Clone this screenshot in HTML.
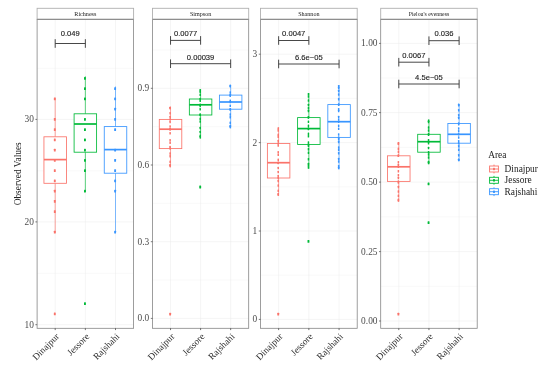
<!DOCTYPE html>
<html><head><meta charset="utf-8"><title>Alpha diversity</title>
<style>html,body{margin:0;padding:0;background:#fff}svg{display:block}</style></head>
<body>
<svg width="550" height="367" viewBox="0 0 550 367">
<rect width="550" height="367" fill="#fff"/>
<g stroke="#ebebeb" stroke-width="0.5">
<line x1="37.1" x2="133.6" y1="68.3" y2="68.3" stroke-width="0.3"/>
<line x1="37.1" x2="133.6" y1="170.8" y2="170.8" stroke-width="0.3"/>
<line x1="37.1" x2="133.6" y1="273.3" y2="273.3" stroke-width="0.3"/>
<line x1="37.1" x2="133.6" y1="119.4" y2="119.4"/>
<line x1="37.1" x2="133.6" y1="221.9" y2="221.9"/>
<line x1="37.1" x2="133.6" y1="324.7" y2="324.7"/>
<line x1="55.19" x2="55.19" y1="19.3" y2="328.3"/>
<line x1="85.35" x2="85.35" y1="19.3" y2="328.3"/>
<line x1="115.51" x2="115.51" y1="19.3" y2="328.3"/>
</g>
<g stroke="#FA736A" fill="none" stroke-width="0.85">
<line x1="55.19" x2="55.19" y1="97.7" y2="136.8" stroke-width="0.65"/>
<line x1="55.19" x2="55.19" y1="183.3" y2="233.0" stroke-width="0.65"/>
<rect x="43.94" y="136.8" width="22.50" height="46.50" fill="#fff"/>
<line x1="43.94" x2="66.44" y1="159.6" y2="159.6" stroke-width="1.7"/>
</g>
<g fill="#FA736A">
<rect x="53.84" y="97.52" width="1.9" height="2.8" rx="0.5"/>
<rect x="53.84" y="118.00" width="1.9" height="2.8" rx="0.5"/>
<rect x="53.84" y="128.24" width="1.9" height="2.8" rx="0.5"/>
<rect x="53.84" y="138.48" width="1.9" height="2.8" rx="0.5"/>
<rect x="53.84" y="148.72" width="1.9" height="2.8" rx="0.5"/>
<rect x="53.84" y="158.96" width="1.9" height="2.8" rx="0.5"/>
<rect x="53.84" y="169.20" width="1.9" height="2.8" rx="0.5"/>
<rect x="53.84" y="179.44" width="1.9" height="2.8" rx="0.5"/>
<rect x="53.84" y="189.68" width="1.9" height="2.8" rx="0.5"/>
<rect x="53.84" y="199.92" width="1.9" height="2.8" rx="0.5"/>
<rect x="53.84" y="210.16" width="1.9" height="2.8" rx="0.5"/>
<rect x="53.84" y="230.64" width="1.9" height="2.8" rx="0.5"/>
<rect x="53.84" y="312.56" width="1.9" height="2.8" rx="0.5"/>
</g>
<g stroke="#00BA38" fill="none" stroke-width="0.85">
<line x1="85.35" x2="85.35" y1="76.3" y2="113.8" stroke-width="0.65"/>
<line x1="85.35" x2="85.35" y1="152.2" y2="192.0" stroke-width="0.65"/>
<rect x="74.10" y="113.8" width="22.50" height="38.40" fill="#fff"/>
<line x1="74.10" x2="96.60" y1="124.0" y2="124.0" stroke-width="1.7"/>
</g>
<g fill="#00BA38">
<rect x="84.00" y="77.04" width="1.9" height="2.8" rx="0.5"/>
<rect x="84.00" y="87.28" width="1.9" height="2.8" rx="0.5"/>
<rect x="84.00" y="97.52" width="1.9" height="2.8" rx="0.5"/>
<rect x="84.00" y="118.00" width="1.9" height="2.8" rx="0.5"/>
<rect x="84.00" y="128.24" width="1.9" height="2.8" rx="0.5"/>
<rect x="84.00" y="138.48" width="1.9" height="2.8" rx="0.5"/>
<rect x="84.00" y="148.72" width="1.9" height="2.8" rx="0.5"/>
<rect x="84.00" y="158.96" width="1.9" height="2.8" rx="0.5"/>
<rect x="84.00" y="169.20" width="1.9" height="2.8" rx="0.5"/>
<rect x="84.00" y="189.68" width="1.9" height="2.8" rx="0.5"/>
<rect x="84.00" y="302.32" width="1.9" height="2.8" rx="0.5"/>
</g>
<g stroke="#3895FF" fill="none" stroke-width="0.85">
<line x1="115.51" x2="115.51" y1="86.5" y2="126.6" stroke-width="0.65"/>
<line x1="115.51" x2="115.51" y1="173.2" y2="233.0" stroke-width="0.65"/>
<rect x="104.26" y="126.6" width="22.50" height="46.60" fill="#fff"/>
<line x1="104.26" x2="126.76" y1="149.6" y2="149.6" stroke-width="1.7"/>
</g>
<g fill="#3895FF">
<rect x="114.16" y="87.28" width="1.9" height="2.8" rx="0.5"/>
<rect x="114.16" y="97.52" width="1.9" height="2.8" rx="0.5"/>
<rect x="114.16" y="107.76" width="1.9" height="2.8" rx="0.5"/>
<rect x="114.16" y="118.00" width="1.9" height="2.8" rx="0.5"/>
<rect x="114.16" y="128.24" width="1.9" height="2.8" rx="0.5"/>
<rect x="114.16" y="148.72" width="1.9" height="2.8" rx="0.5"/>
<rect x="114.16" y="158.96" width="1.9" height="2.8" rx="0.5"/>
<rect x="114.16" y="169.20" width="1.9" height="2.8" rx="0.5"/>
<rect x="114.16" y="179.44" width="1.9" height="2.8" rx="0.5"/>
<rect x="114.16" y="189.68" width="1.9" height="2.8" rx="0.5"/>
<rect x="114.16" y="230.64" width="1.9" height="2.8" rx="0.5"/>
</g>
<path d="M55.19 47.80V39.20M55.19 43.5H85.35M85.35 39.20V47.80" stroke="#3d3d3d" stroke-width="0.95" fill="none"/>
<text x="70.27" y="36.15" font-family="Liberation Sans, sans-serif" font-size="7.6" fill="#1a1a1a" stroke="#1a1a1a" stroke-width="0.12" text-anchor="middle">0.049</text>
<rect x="37.1" y="19.3" width="96.5" height="309.0" fill="none" stroke="#858585" stroke-width="0.8"/>
<rect x="37.1" y="8.3" width="96.5" height="11.00" fill="#fff" stroke="#b0b0b0" stroke-width="0.9"/>
<line x1="37.1" x2="133.6" y1="19.3" y2="19.3" stroke="#777" stroke-width="0.8"/>
<text x="85.35" y="15.5" font-family="Liberation Serif, serif" font-size="6.1" fill="#1a1a1a" text-anchor="middle">Richness</text>
<line x1="35.40" x2="37.1" y1="119.4" y2="119.4" stroke="#444" stroke-width="0.7"/>
<text x="33.90" y="122.40" font-family="Liberation Serif, serif" font-size="9.4" fill="#4d4d4d" text-anchor="end">30</text>
<line x1="35.40" x2="37.1" y1="221.9" y2="221.9" stroke="#444" stroke-width="0.7"/>
<text x="33.90" y="224.90" font-family="Liberation Serif, serif" font-size="9.4" fill="#4d4d4d" text-anchor="end">20</text>
<line x1="35.40" x2="37.1" y1="324.7" y2="324.7" stroke="#444" stroke-width="0.7"/>
<text x="33.90" y="327.70" font-family="Liberation Serif, serif" font-size="9.4" fill="#4d4d4d" text-anchor="end">10</text>
<line x1="55.19" x2="55.19" y1="328.3" y2="330.1" stroke="#333" stroke-width="0.7"/>
<text transform="translate(59.79,337.10) rotate(-45)" font-family="Liberation Serif, serif" font-size="9.4" fill="#303030" text-anchor="end">Dinajpur</text>
<line x1="85.35" x2="85.35" y1="328.3" y2="330.1" stroke="#333" stroke-width="0.7"/>
<text transform="translate(89.95,337.10) rotate(-45)" font-family="Liberation Serif, serif" font-size="9.4" fill="#303030" text-anchor="end">Jessore</text>
<line x1="115.51" x2="115.51" y1="328.3" y2="330.1" stroke="#333" stroke-width="0.7"/>
<text transform="translate(120.11,337.10) rotate(-45)" font-family="Liberation Serif, serif" font-size="9.4" fill="#303030" text-anchor="end">Rajshahi</text>
<g stroke="#ebebeb" stroke-width="0.5">
<line x1="152.5" x2="248.7" y1="50.0" y2="50.0" stroke-width="0.3"/>
<line x1="152.5" x2="248.7" y1="126.6" y2="126.6" stroke-width="0.3"/>
<line x1="152.5" x2="248.7" y1="203.3" y2="203.3" stroke-width="0.3"/>
<line x1="152.5" x2="248.7" y1="280.0" y2="280.0" stroke-width="0.3"/>
<line x1="152.5" x2="248.7" y1="88.3" y2="88.3"/>
<line x1="152.5" x2="248.7" y1="165.0" y2="165.0"/>
<line x1="152.5" x2="248.7" y1="241.7" y2="241.7"/>
<line x1="152.5" x2="248.7" y1="318.4" y2="318.4"/>
<line x1="170.54" x2="170.54" y1="19.3" y2="328.3"/>
<line x1="200.60" x2="200.60" y1="19.3" y2="328.3"/>
<line x1="230.66" x2="230.66" y1="19.3" y2="328.3"/>
</g>
<g stroke="#FA736A" fill="none" stroke-width="0.85">
<line x1="170.54" x2="170.54" y1="106.6" y2="119.4" stroke-width="0.65"/>
<line x1="170.54" x2="170.54" y1="148.6" y2="167.3" stroke-width="0.65"/>
<rect x="159.29" y="119.4" width="22.50" height="29.20" fill="#fff"/>
<line x1="159.29" x2="181.79" y1="129.2" y2="129.2" stroke-width="1.7"/>
</g>
<g fill="#FA736A">
<rect x="169.19" y="312.80" width="1.9" height="2.8" rx="0.5"/>
<rect x="169.39" y="106.65" width="1.5" height="2.5" rx="0.5"/>
<rect x="169.39" y="164.75" width="1.5" height="2.5" rx="0.5"/>
<rect x="169.39" y="118.15" width="1.5" height="2.5" rx="0.5"/>
<rect x="169.39" y="147.35" width="1.5" height="2.5" rx="0.5"/>
<rect x="169.39" y="127.95" width="1.5" height="2.5" rx="0.5"/>
<rect x="169.39" y="106.73" width="1.5" height="2.5" rx="0.5"/>
<rect x="169.39" y="111.99" width="1.5" height="2.5" rx="0.5"/>
<rect x="169.39" y="115.80" width="1.5" height="2.5" rx="0.5"/>
<rect x="169.39" y="120.84" width="1.5" height="2.5" rx="0.5"/>
<rect x="169.39" y="125.24" width="1.5" height="2.5" rx="0.5"/>
<rect x="169.39" y="127.89" width="1.5" height="2.5" rx="0.5"/>
<rect x="169.39" y="132.07" width="1.5" height="2.5" rx="0.5"/>
<rect x="169.39" y="138.88" width="1.5" height="2.5" rx="0.5"/>
<rect x="169.39" y="141.48" width="1.5" height="2.5" rx="0.5"/>
<rect x="169.39" y="145.74" width="1.5" height="2.5" rx="0.5"/>
<rect x="169.39" y="152.36" width="1.5" height="2.5" rx="0.5"/>
<rect x="169.39" y="155.12" width="1.5" height="2.5" rx="0.5"/>
<rect x="169.39" y="160.56" width="1.5" height="2.5" rx="0.5"/>
<rect x="169.39" y="163.81" width="1.5" height="2.5" rx="0.5"/>
</g>
<g stroke="#00BA38" fill="none" stroke-width="0.85">
<line x1="200.60" x2="200.60" y1="89.0" y2="99.0" stroke-width="0.65"/>
<line x1="200.60" x2="200.60" y1="115.0" y2="138.6" stroke-width="0.65"/>
<rect x="189.35" y="99.0" width="22.50" height="16.00" fill="#fff"/>
<line x1="189.35" x2="211.85" y1="104.8" y2="104.8" stroke-width="1.7"/>
</g>
<g fill="#00BA38">
<rect x="199.25" y="185.60" width="1.9" height="2.8" rx="0.5"/>
<rect x="199.45" y="89.05" width="1.5" height="2.5" rx="0.5"/>
<rect x="199.45" y="136.05" width="1.5" height="2.5" rx="0.5"/>
<rect x="199.45" y="97.75" width="1.5" height="2.5" rx="0.5"/>
<rect x="199.45" y="113.75" width="1.5" height="2.5" rx="0.5"/>
<rect x="199.45" y="103.55" width="1.5" height="2.5" rx="0.5"/>
<rect x="199.45" y="90.42" width="1.5" height="2.5" rx="0.5"/>
<rect x="199.45" y="93.47" width="1.5" height="2.5" rx="0.5"/>
<rect x="199.45" y="99.43" width="1.5" height="2.5" rx="0.5"/>
<rect x="199.45" y="104.64" width="1.5" height="2.5" rx="0.5"/>
<rect x="199.45" y="108.11" width="1.5" height="2.5" rx="0.5"/>
<rect x="199.45" y="113.27" width="1.5" height="2.5" rx="0.5"/>
<rect x="199.45" y="117.57" width="1.5" height="2.5" rx="0.5"/>
<rect x="199.45" y="120.26" width="1.5" height="2.5" rx="0.5"/>
<rect x="199.45" y="126.85" width="1.5" height="2.5" rx="0.5"/>
<rect x="199.45" y="130.86" width="1.5" height="2.5" rx="0.5"/>
<rect x="199.45" y="134.50" width="1.5" height="2.5" rx="0.5"/>
</g>
<g stroke="#3895FF" fill="none" stroke-width="0.85">
<line x1="230.66" x2="230.66" y1="85.0" y2="95.1" stroke-width="0.65"/>
<line x1="230.66" x2="230.66" y1="109.2" y2="128.4" stroke-width="0.65"/>
<rect x="219.41" y="95.1" width="22.50" height="14.10" fill="#fff"/>
<line x1="219.41" x2="241.91" y1="102.0" y2="102.0" stroke-width="1.7"/>
</g>
<g fill="#3895FF">
<rect x="229.51" y="85.05" width="1.5" height="2.5" rx="0.5"/>
<rect x="229.51" y="125.85" width="1.5" height="2.5" rx="0.5"/>
<rect x="229.51" y="93.85" width="1.5" height="2.5" rx="0.5"/>
<rect x="229.51" y="107.95" width="1.5" height="2.5" rx="0.5"/>
<rect x="229.51" y="100.75" width="1.5" height="2.5" rx="0.5"/>
<rect x="229.51" y="84.51" width="1.5" height="2.5" rx="0.5"/>
<rect x="229.51" y="91.36" width="1.5" height="2.5" rx="0.5"/>
<rect x="229.51" y="94.52" width="1.5" height="2.5" rx="0.5"/>
<rect x="229.51" y="99.60" width="1.5" height="2.5" rx="0.5"/>
<rect x="229.51" y="104.42" width="1.5" height="2.5" rx="0.5"/>
<rect x="229.51" y="108.26" width="1.5" height="2.5" rx="0.5"/>
<rect x="229.51" y="113.22" width="1.5" height="2.5" rx="0.5"/>
<rect x="229.51" y="115.98" width="1.5" height="2.5" rx="0.5"/>
<rect x="229.51" y="121.54" width="1.5" height="2.5" rx="0.5"/>
<rect x="229.51" y="124.81" width="1.5" height="2.5" rx="0.5"/>
</g>
<path d="M170.54 44.70V36.10M170.54 40.4H200.60M200.60 36.10V44.70" stroke="#3d3d3d" stroke-width="0.95" fill="none"/>
<text x="185.57" y="36.15" font-family="Liberation Sans, sans-serif" font-size="7.6" fill="#1a1a1a" stroke="#1a1a1a" stroke-width="0.12" text-anchor="middle">0.0077</text>
<path d="M170.54 68.00V59.40M170.54 63.7H230.66M230.66 59.40V68.00" stroke="#3d3d3d" stroke-width="0.95" fill="none"/>
<text x="200.60" y="60.05" font-family="Liberation Sans, sans-serif" font-size="7.6" fill="#1a1a1a" stroke="#1a1a1a" stroke-width="0.12" text-anchor="middle">0.00039</text>
<rect x="152.5" y="19.3" width="96.2" height="309.0" fill="none" stroke="#858585" stroke-width="0.8"/>
<rect x="152.5" y="8.3" width="96.2" height="11.00" fill="#fff" stroke="#b0b0b0" stroke-width="0.9"/>
<line x1="152.5" x2="248.7" y1="19.3" y2="19.3" stroke="#777" stroke-width="0.8"/>
<text x="200.60" y="15.5" font-family="Liberation Serif, serif" font-size="6.1" fill="#1a1a1a" text-anchor="middle">Simpson</text>
<line x1="150.80" x2="152.5" y1="88.3" y2="88.3" stroke="#444" stroke-width="0.7"/>
<text x="149.30" y="91.30" font-family="Liberation Serif, serif" font-size="9.4" fill="#4d4d4d" text-anchor="end">0.9</text>
<line x1="150.80" x2="152.5" y1="165.0" y2="165.0" stroke="#444" stroke-width="0.7"/>
<text x="149.30" y="168.00" font-family="Liberation Serif, serif" font-size="9.4" fill="#4d4d4d" text-anchor="end">0.6</text>
<line x1="150.80" x2="152.5" y1="241.7" y2="241.7" stroke="#444" stroke-width="0.7"/>
<text x="149.30" y="244.70" font-family="Liberation Serif, serif" font-size="9.4" fill="#4d4d4d" text-anchor="end">0.3</text>
<line x1="150.80" x2="152.5" y1="318.4" y2="318.4" stroke="#444" stroke-width="0.7"/>
<text x="149.30" y="321.40" font-family="Liberation Serif, serif" font-size="9.4" fill="#4d4d4d" text-anchor="end">0.0</text>
<line x1="170.54" x2="170.54" y1="328.3" y2="330.1" stroke="#333" stroke-width="0.7"/>
<text transform="translate(175.14,337.10) rotate(-45)" font-family="Liberation Serif, serif" font-size="9.4" fill="#303030" text-anchor="end">Dinajpur</text>
<line x1="200.60" x2="200.60" y1="328.3" y2="330.1" stroke="#333" stroke-width="0.7"/>
<text transform="translate(205.20,337.10) rotate(-45)" font-family="Liberation Serif, serif" font-size="9.4" fill="#303030" text-anchor="end">Jessore</text>
<line x1="230.66" x2="230.66" y1="328.3" y2="330.1" stroke="#333" stroke-width="0.7"/>
<text transform="translate(235.26,337.10) rotate(-45)" font-family="Liberation Serif, serif" font-size="9.4" fill="#303030" text-anchor="end">Rajshahi</text>
<g stroke="#ebebeb" stroke-width="0.5">
<line x1="260.5" x2="357.2" y1="98.4" y2="98.4" stroke-width="0.3"/>
<line x1="260.5" x2="357.2" y1="186.8" y2="186.8" stroke-width="0.3"/>
<line x1="260.5" x2="357.2" y1="275.2" y2="275.2" stroke-width="0.3"/>
<line x1="260.5" x2="357.2" y1="54.2" y2="54.2"/>
<line x1="260.5" x2="357.2" y1="142.6" y2="142.6"/>
<line x1="260.5" x2="357.2" y1="231.0" y2="231.0"/>
<line x1="260.5" x2="357.2" y1="319.4" y2="319.4"/>
<line x1="278.63" x2="278.63" y1="19.3" y2="328.3"/>
<line x1="308.85" x2="308.85" y1="19.3" y2="328.3"/>
<line x1="339.07" x2="339.07" y1="19.3" y2="328.3"/>
</g>
<g stroke="#FA736A" fill="none" stroke-width="0.85">
<line x1="278.63" x2="278.63" y1="127.1" y2="143.5" stroke-width="0.65"/>
<line x1="278.63" x2="278.63" y1="178.0" y2="195.9" stroke-width="0.65"/>
<rect x="267.38" y="143.5" width="22.50" height="34.50" fill="#fff"/>
<line x1="267.38" x2="289.88" y1="162.7" y2="162.7" stroke-width="1.7"/>
</g>
<g fill="#FA736A">
<rect x="277.28" y="312.80" width="1.9" height="2.8" rx="0.5"/>
<rect x="277.48" y="127.15" width="1.5" height="2.5" rx="0.5"/>
<rect x="277.48" y="193.35" width="1.5" height="2.5" rx="0.5"/>
<rect x="277.48" y="142.25" width="1.5" height="2.5" rx="0.5"/>
<rect x="277.48" y="176.75" width="1.5" height="2.5" rx="0.5"/>
<rect x="277.48" y="161.45" width="1.5" height="2.5" rx="0.5"/>
<rect x="277.48" y="129.31" width="1.5" height="2.5" rx="0.5"/>
<rect x="277.48" y="133.44" width="1.5" height="2.5" rx="0.5"/>
<rect x="277.48" y="135.39" width="1.5" height="2.5" rx="0.5"/>
<rect x="277.48" y="139.81" width="1.5" height="2.5" rx="0.5"/>
<rect x="277.48" y="144.35" width="1.5" height="2.5" rx="0.5"/>
<rect x="277.48" y="150.90" width="1.5" height="2.5" rx="0.5"/>
<rect x="277.48" y="153.61" width="1.5" height="2.5" rx="0.5"/>
<rect x="277.48" y="158.48" width="1.5" height="2.5" rx="0.5"/>
<rect x="277.48" y="161.80" width="1.5" height="2.5" rx="0.5"/>
<rect x="277.48" y="166.72" width="1.5" height="2.5" rx="0.5"/>
<rect x="277.48" y="170.66" width="1.5" height="2.5" rx="0.5"/>
<rect x="277.48" y="174.85" width="1.5" height="2.5" rx="0.5"/>
<rect x="277.48" y="179.86" width="1.5" height="2.5" rx="0.5"/>
<rect x="277.48" y="184.15" width="1.5" height="2.5" rx="0.5"/>
<rect x="277.48" y="189.41" width="1.5" height="2.5" rx="0.5"/>
<rect x="277.48" y="193.05" width="1.5" height="2.5" rx="0.5"/>
</g>
<g stroke="#00BA38" fill="none" stroke-width="0.85">
<line x1="308.85" x2="308.85" y1="93.0" y2="117.6" stroke-width="0.65"/>
<line x1="308.85" x2="308.85" y1="144.5" y2="168.8" stroke-width="0.65"/>
<rect x="297.60" y="117.6" width="22.50" height="26.90" fill="#fff"/>
<line x1="297.60" x2="320.10" y1="128.6" y2="128.6" stroke-width="1.7"/>
</g>
<g fill="#00BA38">
<rect x="307.50" y="240.00" width="1.9" height="2.8" rx="0.5"/>
<rect x="307.70" y="93.05" width="1.5" height="2.5" rx="0.5"/>
<rect x="307.70" y="166.25" width="1.5" height="2.5" rx="0.5"/>
<rect x="307.70" y="116.35" width="1.5" height="2.5" rx="0.5"/>
<rect x="307.70" y="143.25" width="1.5" height="2.5" rx="0.5"/>
<rect x="307.70" y="127.35" width="1.5" height="2.5" rx="0.5"/>
<rect x="307.70" y="95.14" width="1.5" height="2.5" rx="0.5"/>
<rect x="307.70" y="99.14" width="1.5" height="2.5" rx="0.5"/>
<rect x="307.70" y="103.75" width="1.5" height="2.5" rx="0.5"/>
<rect x="307.70" y="107.00" width="1.5" height="2.5" rx="0.5"/>
<rect x="307.70" y="109.69" width="1.5" height="2.5" rx="0.5"/>
<rect x="307.70" y="115.99" width="1.5" height="2.5" rx="0.5"/>
<rect x="307.70" y="120.52" width="1.5" height="2.5" rx="0.5"/>
<rect x="307.70" y="124.55" width="1.5" height="2.5" rx="0.5"/>
<rect x="307.70" y="127.75" width="1.5" height="2.5" rx="0.5"/>
<rect x="307.70" y="132.40" width="1.5" height="2.5" rx="0.5"/>
<rect x="307.70" y="135.10" width="1.5" height="2.5" rx="0.5"/>
<rect x="307.70" y="141.17" width="1.5" height="2.5" rx="0.5"/>
<rect x="307.70" y="144.61" width="1.5" height="2.5" rx="0.5"/>
<rect x="307.70" y="147.95" width="1.5" height="2.5" rx="0.5"/>
<rect x="307.70" y="151.50" width="1.5" height="2.5" rx="0.5"/>
<rect x="307.70" y="158.08" width="1.5" height="2.5" rx="0.5"/>
<rect x="307.70" y="162.70" width="1.5" height="2.5" rx="0.5"/>
<rect x="307.70" y="164.21" width="1.5" height="2.5" rx="0.5"/>
</g>
<g stroke="#3895FF" fill="none" stroke-width="0.85">
<line x1="339.07" x2="339.07" y1="85.0" y2="104.6" stroke-width="0.65"/>
<line x1="339.07" x2="339.07" y1="137.4" y2="169.3" stroke-width="0.65"/>
<rect x="327.82" y="104.6" width="22.50" height="32.80" fill="#fff"/>
<line x1="327.82" x2="350.32" y1="121.7" y2="121.7" stroke-width="1.7"/>
</g>
<g fill="#3895FF">
<rect x="337.92" y="85.05" width="1.5" height="2.5" rx="0.5"/>
<rect x="337.92" y="166.75" width="1.5" height="2.5" rx="0.5"/>
<rect x="337.92" y="103.35" width="1.5" height="2.5" rx="0.5"/>
<rect x="337.92" y="136.15" width="1.5" height="2.5" rx="0.5"/>
<rect x="337.92" y="120.45" width="1.5" height="2.5" rx="0.5"/>
<rect x="337.92" y="86.76" width="1.5" height="2.5" rx="0.5"/>
<rect x="337.92" y="89.80" width="1.5" height="2.5" rx="0.5"/>
<rect x="337.92" y="93.24" width="1.5" height="2.5" rx="0.5"/>
<rect x="337.92" y="97.88" width="1.5" height="2.5" rx="0.5"/>
<rect x="337.92" y="103.52" width="1.5" height="2.5" rx="0.5"/>
<rect x="337.92" y="108.05" width="1.5" height="2.5" rx="0.5"/>
<rect x="337.92" y="109.78" width="1.5" height="2.5" rx="0.5"/>
<rect x="337.92" y="115.71" width="1.5" height="2.5" rx="0.5"/>
<rect x="337.92" y="118.21" width="1.5" height="2.5" rx="0.5"/>
<rect x="337.92" y="124.45" width="1.5" height="2.5" rx="0.5"/>
<rect x="337.92" y="127.50" width="1.5" height="2.5" rx="0.5"/>
<rect x="337.92" y="133.37" width="1.5" height="2.5" rx="0.5"/>
<rect x="337.92" y="137.88" width="1.5" height="2.5" rx="0.5"/>
<rect x="337.92" y="140.67" width="1.5" height="2.5" rx="0.5"/>
<rect x="337.92" y="146.36" width="1.5" height="2.5" rx="0.5"/>
<rect x="337.92" y="148.51" width="1.5" height="2.5" rx="0.5"/>
<rect x="337.92" y="152.03" width="1.5" height="2.5" rx="0.5"/>
<rect x="337.92" y="157.81" width="1.5" height="2.5" rx="0.5"/>
<rect x="337.92" y="160.32" width="1.5" height="2.5" rx="0.5"/>
<rect x="337.92" y="165.03" width="1.5" height="2.5" rx="0.5"/>
</g>
<path d="M278.63 44.80V36.20M278.63 40.5H308.85M308.85 36.20V44.80" stroke="#3d3d3d" stroke-width="0.95" fill="none"/>
<text x="293.74" y="36.15" font-family="Liberation Sans, sans-serif" font-size="7.6" fill="#1a1a1a" stroke="#1a1a1a" stroke-width="0.12" text-anchor="middle">0.0047</text>
<path d="M278.63 68.30V59.70M278.63 64.0H339.07M339.07 59.70V68.30" stroke="#3d3d3d" stroke-width="0.95" fill="none"/>
<text x="308.85" y="60.15" font-family="Liberation Sans, sans-serif" font-size="7.6" fill="#1a1a1a" stroke="#1a1a1a" stroke-width="0.12" text-anchor="middle">6.6e−05</text>
<rect x="260.5" y="19.3" width="96.7" height="309.0" fill="none" stroke="#858585" stroke-width="0.8"/>
<rect x="260.5" y="8.3" width="96.7" height="11.00" fill="#fff" stroke="#b0b0b0" stroke-width="0.9"/>
<line x1="260.5" x2="357.2" y1="19.3" y2="19.3" stroke="#777" stroke-width="0.8"/>
<text x="308.85" y="15.5" font-family="Liberation Serif, serif" font-size="6.1" fill="#1a1a1a" text-anchor="middle">Shannon</text>
<line x1="258.80" x2="260.5" y1="54.2" y2="54.2" stroke="#444" stroke-width="0.7"/>
<text x="257.30" y="57.20" font-family="Liberation Serif, serif" font-size="9.4" fill="#4d4d4d" text-anchor="end">3</text>
<line x1="258.80" x2="260.5" y1="142.6" y2="142.6" stroke="#444" stroke-width="0.7"/>
<text x="257.30" y="145.60" font-family="Liberation Serif, serif" font-size="9.4" fill="#4d4d4d" text-anchor="end">2</text>
<line x1="258.80" x2="260.5" y1="231.0" y2="231.0" stroke="#444" stroke-width="0.7"/>
<text x="257.30" y="234.00" font-family="Liberation Serif, serif" font-size="9.4" fill="#4d4d4d" text-anchor="end">1</text>
<line x1="258.80" x2="260.5" y1="319.4" y2="319.4" stroke="#444" stroke-width="0.7"/>
<text x="257.30" y="322.40" font-family="Liberation Serif, serif" font-size="9.4" fill="#4d4d4d" text-anchor="end">0</text>
<line x1="278.63" x2="278.63" y1="328.3" y2="330.1" stroke="#333" stroke-width="0.7"/>
<text transform="translate(283.23,337.10) rotate(-45)" font-family="Liberation Serif, serif" font-size="9.4" fill="#303030" text-anchor="end">Dinajpur</text>
<line x1="308.85" x2="308.85" y1="328.3" y2="330.1" stroke="#333" stroke-width="0.7"/>
<text transform="translate(313.45,337.10) rotate(-45)" font-family="Liberation Serif, serif" font-size="9.4" fill="#303030" text-anchor="end">Jessore</text>
<line x1="339.07" x2="339.07" y1="328.3" y2="330.1" stroke="#333" stroke-width="0.7"/>
<text transform="translate(343.67,337.10) rotate(-45)" font-family="Liberation Serif, serif" font-size="9.4" fill="#303030" text-anchor="end">Rajshahi</text>
<g stroke="#ebebeb" stroke-width="0.5">
<line x1="380.7" x2="477.2" y1="78.0" y2="78.0" stroke-width="0.3"/>
<line x1="380.7" x2="477.2" y1="147.4" y2="147.4" stroke-width="0.3"/>
<line x1="380.7" x2="477.2" y1="216.8" y2="216.8" stroke-width="0.3"/>
<line x1="380.7" x2="477.2" y1="286.3" y2="286.3" stroke-width="0.3"/>
<line x1="380.7" x2="477.2" y1="43.4" y2="43.4"/>
<line x1="380.7" x2="477.2" y1="112.6" y2="112.6"/>
<line x1="380.7" x2="477.2" y1="182.1" y2="182.1"/>
<line x1="380.7" x2="477.2" y1="251.6" y2="251.6"/>
<line x1="380.7" x2="477.2" y1="321.0" y2="321.0"/>
<line x1="398.79" x2="398.79" y1="19.3" y2="328.3"/>
<line x1="428.95" x2="428.95" y1="19.3" y2="328.3"/>
<line x1="459.11" x2="459.11" y1="19.3" y2="328.3"/>
</g>
<g stroke="#FA736A" fill="none" stroke-width="0.85">
<line x1="398.79" x2="398.79" y1="142.0" y2="155.8" stroke-width="0.65"/>
<line x1="398.79" x2="398.79" y1="181.4" y2="201.8" stroke-width="0.65"/>
<rect x="387.54" y="155.8" width="22.50" height="25.60" fill="#fff"/>
<line x1="387.54" x2="410.04" y1="166.8" y2="166.8" stroke-width="1.7"/>
</g>
<g fill="#FA736A">
<rect x="397.44" y="312.80" width="1.9" height="2.8" rx="0.5"/>
<rect x="397.64" y="142.05" width="1.5" height="2.5" rx="0.5"/>
<rect x="397.64" y="199.25" width="1.5" height="2.5" rx="0.5"/>
<rect x="397.64" y="154.55" width="1.5" height="2.5" rx="0.5"/>
<rect x="397.64" y="180.15" width="1.5" height="2.5" rx="0.5"/>
<rect x="397.64" y="165.55" width="1.5" height="2.5" rx="0.5"/>
<rect x="397.64" y="142.61" width="1.5" height="2.5" rx="0.5"/>
<rect x="397.64" y="147.49" width="1.5" height="2.5" rx="0.5"/>
<rect x="397.64" y="150.40" width="1.5" height="2.5" rx="0.5"/>
<rect x="397.64" y="154.33" width="1.5" height="2.5" rx="0.5"/>
<rect x="397.64" y="161.07" width="1.5" height="2.5" rx="0.5"/>
<rect x="397.64" y="163.68" width="1.5" height="2.5" rx="0.5"/>
<rect x="397.64" y="169.89" width="1.5" height="2.5" rx="0.5"/>
<rect x="397.64" y="173.98" width="1.5" height="2.5" rx="0.5"/>
<rect x="397.64" y="176.69" width="1.5" height="2.5" rx="0.5"/>
<rect x="397.64" y="181.21" width="1.5" height="2.5" rx="0.5"/>
<rect x="397.64" y="185.66" width="1.5" height="2.5" rx="0.5"/>
<rect x="397.64" y="190.30" width="1.5" height="2.5" rx="0.5"/>
<rect x="397.64" y="194.43" width="1.5" height="2.5" rx="0.5"/>
<rect x="397.64" y="198.59" width="1.5" height="2.5" rx="0.5"/>
</g>
<g stroke="#00BA38" fill="none" stroke-width="0.85">
<line x1="428.95" x2="428.95" y1="119.4" y2="134.3" stroke-width="0.65"/>
<line x1="428.95" x2="428.95" y1="152.2" y2="164.2" stroke-width="0.65"/>
<rect x="417.70" y="134.3" width="22.50" height="17.90" fill="#fff"/>
<line x1="417.70" x2="440.20" y1="141.7" y2="141.7" stroke-width="1.7"/>
</g>
<g fill="#00BA38">
<rect x="427.60" y="182.40" width="1.9" height="2.8" rx="0.5"/>
<rect x="427.60" y="221.30" width="1.9" height="2.8" rx="0.5"/>
<rect x="427.80" y="119.45" width="1.5" height="2.5" rx="0.5"/>
<rect x="427.80" y="161.65" width="1.5" height="2.5" rx="0.5"/>
<rect x="427.80" y="133.05" width="1.5" height="2.5" rx="0.5"/>
<rect x="427.80" y="150.95" width="1.5" height="2.5" rx="0.5"/>
<rect x="427.80" y="140.45" width="1.5" height="2.5" rx="0.5"/>
<rect x="427.80" y="120.75" width="1.5" height="2.5" rx="0.5"/>
<rect x="427.80" y="126.19" width="1.5" height="2.5" rx="0.5"/>
<rect x="427.80" y="129.37" width="1.5" height="2.5" rx="0.5"/>
<rect x="427.80" y="133.62" width="1.5" height="2.5" rx="0.5"/>
<rect x="427.80" y="138.97" width="1.5" height="2.5" rx="0.5"/>
<rect x="427.80" y="142.00" width="1.5" height="2.5" rx="0.5"/>
<rect x="427.80" y="146.67" width="1.5" height="2.5" rx="0.5"/>
<rect x="427.80" y="153.18" width="1.5" height="2.5" rx="0.5"/>
<rect x="427.80" y="156.29" width="1.5" height="2.5" rx="0.5"/>
<rect x="427.80" y="160.86" width="1.5" height="2.5" rx="0.5"/>
</g>
<g stroke="#3895FF" fill="none" stroke-width="0.85">
<line x1="459.11" x2="459.11" y1="104.0" y2="123.5" stroke-width="0.65"/>
<line x1="459.11" x2="459.11" y1="143.2" y2="161.2" stroke-width="0.65"/>
<rect x="447.86" y="123.5" width="22.50" height="19.70" fill="#fff"/>
<line x1="447.86" x2="470.36" y1="134.3" y2="134.3" stroke-width="1.7"/>
</g>
<g fill="#3895FF">
<rect x="457.96" y="104.05" width="1.5" height="2.5" rx="0.5"/>
<rect x="457.96" y="158.65" width="1.5" height="2.5" rx="0.5"/>
<rect x="457.96" y="122.25" width="1.5" height="2.5" rx="0.5"/>
<rect x="457.96" y="141.95" width="1.5" height="2.5" rx="0.5"/>
<rect x="457.96" y="133.05" width="1.5" height="2.5" rx="0.5"/>
<rect x="457.96" y="103.48" width="1.5" height="2.5" rx="0.5"/>
<rect x="457.96" y="109.10" width="1.5" height="2.5" rx="0.5"/>
<rect x="457.96" y="113.99" width="1.5" height="2.5" rx="0.5"/>
<rect x="457.96" y="116.71" width="1.5" height="2.5" rx="0.5"/>
<rect x="457.96" y="122.90" width="1.5" height="2.5" rx="0.5"/>
<rect x="457.96" y="127.35" width="1.5" height="2.5" rx="0.5"/>
<rect x="457.96" y="130.03" width="1.5" height="2.5" rx="0.5"/>
<rect x="457.96" y="136.13" width="1.5" height="2.5" rx="0.5"/>
<rect x="457.96" y="140.05" width="1.5" height="2.5" rx="0.5"/>
<rect x="457.96" y="145.09" width="1.5" height="2.5" rx="0.5"/>
<rect x="457.96" y="148.51" width="1.5" height="2.5" rx="0.5"/>
<rect x="457.96" y="153.97" width="1.5" height="2.5" rx="0.5"/>
<rect x="457.96" y="158.46" width="1.5" height="2.5" rx="0.5"/>
</g>
<path d="M428.95 45.00V36.40M428.95 40.7H459.11M459.11 36.40V45.00" stroke="#3d3d3d" stroke-width="0.95" fill="none"/>
<text x="444.03" y="36.15" font-family="Liberation Sans, sans-serif" font-size="7.6" fill="#1a1a1a" stroke="#1a1a1a" stroke-width="0.12" text-anchor="middle">0.036</text>
<path d="M398.79 66.50V57.90M398.79 62.2H428.95M428.95 57.90V66.50" stroke="#3d3d3d" stroke-width="0.95" fill="none"/>
<text x="413.87" y="58.15" font-family="Liberation Sans, sans-serif" font-size="7.6" fill="#1a1a1a" stroke="#1a1a1a" stroke-width="0.12" text-anchor="middle">0.0067</text>
<path d="M398.79 88.30V79.70M398.79 84.0H459.11M459.11 79.70V88.30" stroke="#3d3d3d" stroke-width="0.95" fill="none"/>
<text x="428.95" y="80.35" font-family="Liberation Sans, sans-serif" font-size="7.6" fill="#1a1a1a" stroke="#1a1a1a" stroke-width="0.12" text-anchor="middle">4.5e−05</text>
<rect x="380.7" y="19.3" width="96.5" height="309.0" fill="none" stroke="#858585" stroke-width="0.8"/>
<rect x="380.7" y="8.3" width="96.5" height="11.00" fill="#fff" stroke="#b0b0b0" stroke-width="0.9"/>
<line x1="380.7" x2="477.2" y1="19.3" y2="19.3" stroke="#777" stroke-width="0.8"/>
<text x="428.95" y="15.5" font-family="Liberation Serif, serif" font-size="5.8" fill="#1a1a1a" text-anchor="middle">Pielou's evenness</text>
<line x1="379.00" x2="380.7" y1="43.4" y2="43.4" stroke="#444" stroke-width="0.7"/>
<text x="377.50" y="46.40" font-family="Liberation Serif, serif" font-size="9.4" fill="#4d4d4d" text-anchor="end">1.00</text>
<line x1="379.00" x2="380.7" y1="112.6" y2="112.6" stroke="#444" stroke-width="0.7"/>
<text x="377.50" y="115.60" font-family="Liberation Serif, serif" font-size="9.4" fill="#4d4d4d" text-anchor="end">0.75</text>
<line x1="379.00" x2="380.7" y1="182.1" y2="182.1" stroke="#444" stroke-width="0.7"/>
<text x="377.50" y="185.10" font-family="Liberation Serif, serif" font-size="9.4" fill="#4d4d4d" text-anchor="end">0.50</text>
<line x1="379.00" x2="380.7" y1="251.6" y2="251.6" stroke="#444" stroke-width="0.7"/>
<text x="377.50" y="254.60" font-family="Liberation Serif, serif" font-size="9.4" fill="#4d4d4d" text-anchor="end">0.25</text>
<line x1="379.00" x2="380.7" y1="321.0" y2="321.0" stroke="#444" stroke-width="0.7"/>
<text x="377.50" y="324.00" font-family="Liberation Serif, serif" font-size="9.4" fill="#4d4d4d" text-anchor="end">0.00</text>
<line x1="398.79" x2="398.79" y1="328.3" y2="330.1" stroke="#333" stroke-width="0.7"/>
<text transform="translate(403.39,337.10) rotate(-45)" font-family="Liberation Serif, serif" font-size="9.4" fill="#303030" text-anchor="end">Dinajpur</text>
<line x1="428.95" x2="428.95" y1="328.3" y2="330.1" stroke="#333" stroke-width="0.7"/>
<text transform="translate(433.55,337.10) rotate(-45)" font-family="Liberation Serif, serif" font-size="9.4" fill="#303030" text-anchor="end">Jessore</text>
<line x1="459.11" x2="459.11" y1="328.3" y2="330.1" stroke="#333" stroke-width="0.7"/>
<text transform="translate(463.71,337.10) rotate(-45)" font-family="Liberation Serif, serif" font-size="9.4" fill="#303030" text-anchor="end">Rajshahi</text>
<text transform="translate(20.6,173.8) rotate(-90)" font-family="Liberation Serif, serif" font-size="9.4" fill="#222" text-anchor="middle">Observed Values</text>
<text x="488.2" y="157.6" font-family="Liberation Serif, serif" font-size="9.4" fill="#222">Area</text>
<g stroke="#FA736A" stroke-width="0.9" fill="none"><line x1="494" x2="494" y1="164.6" y2="173.4"/><rect x="489.6" y="166.0" width="8.8" height="6.0" fill="#fff"/><line x1="489.6" x2="498.4" y1="169.0" y2="169.0"/></g>
<rect x="493.0" y="167.8" width="2.0" height="2.4" rx="0.6" fill="#FA736A"/>
<text x="504.6" y="172.00" font-family="Liberation Serif, serif" font-size="9.4" fill="#222">Dinajpur</text>
<g stroke="#00BA38" stroke-width="0.9" fill="none"><line x1="494" x2="494" y1="175.9" y2="184.70000000000002"/><rect x="489.6" y="177.3" width="8.8" height="6.0" fill="#fff"/><line x1="489.6" x2="498.4" y1="180.3" y2="180.3"/></g>
<rect x="493.0" y="179.10000000000002" width="2.0" height="2.4" rx="0.6" fill="#00BA38"/>
<text x="504.6" y="183.30" font-family="Liberation Serif, serif" font-size="9.4" fill="#222">Jessore</text>
<g stroke="#3895FF" stroke-width="0.9" fill="none"><line x1="494" x2="494" y1="187.29999999999998" y2="196.1"/><rect x="489.6" y="188.7" width="8.8" height="6.0" fill="#fff"/><line x1="489.6" x2="498.4" y1="191.7" y2="191.7"/></g>
<rect x="493.0" y="190.5" width="2.0" height="2.4" rx="0.6" fill="#3895FF"/>
<text x="504.6" y="194.70" font-family="Liberation Serif, serif" font-size="9.4" fill="#222">Rajshahi</text>
</svg>
</body></html>
